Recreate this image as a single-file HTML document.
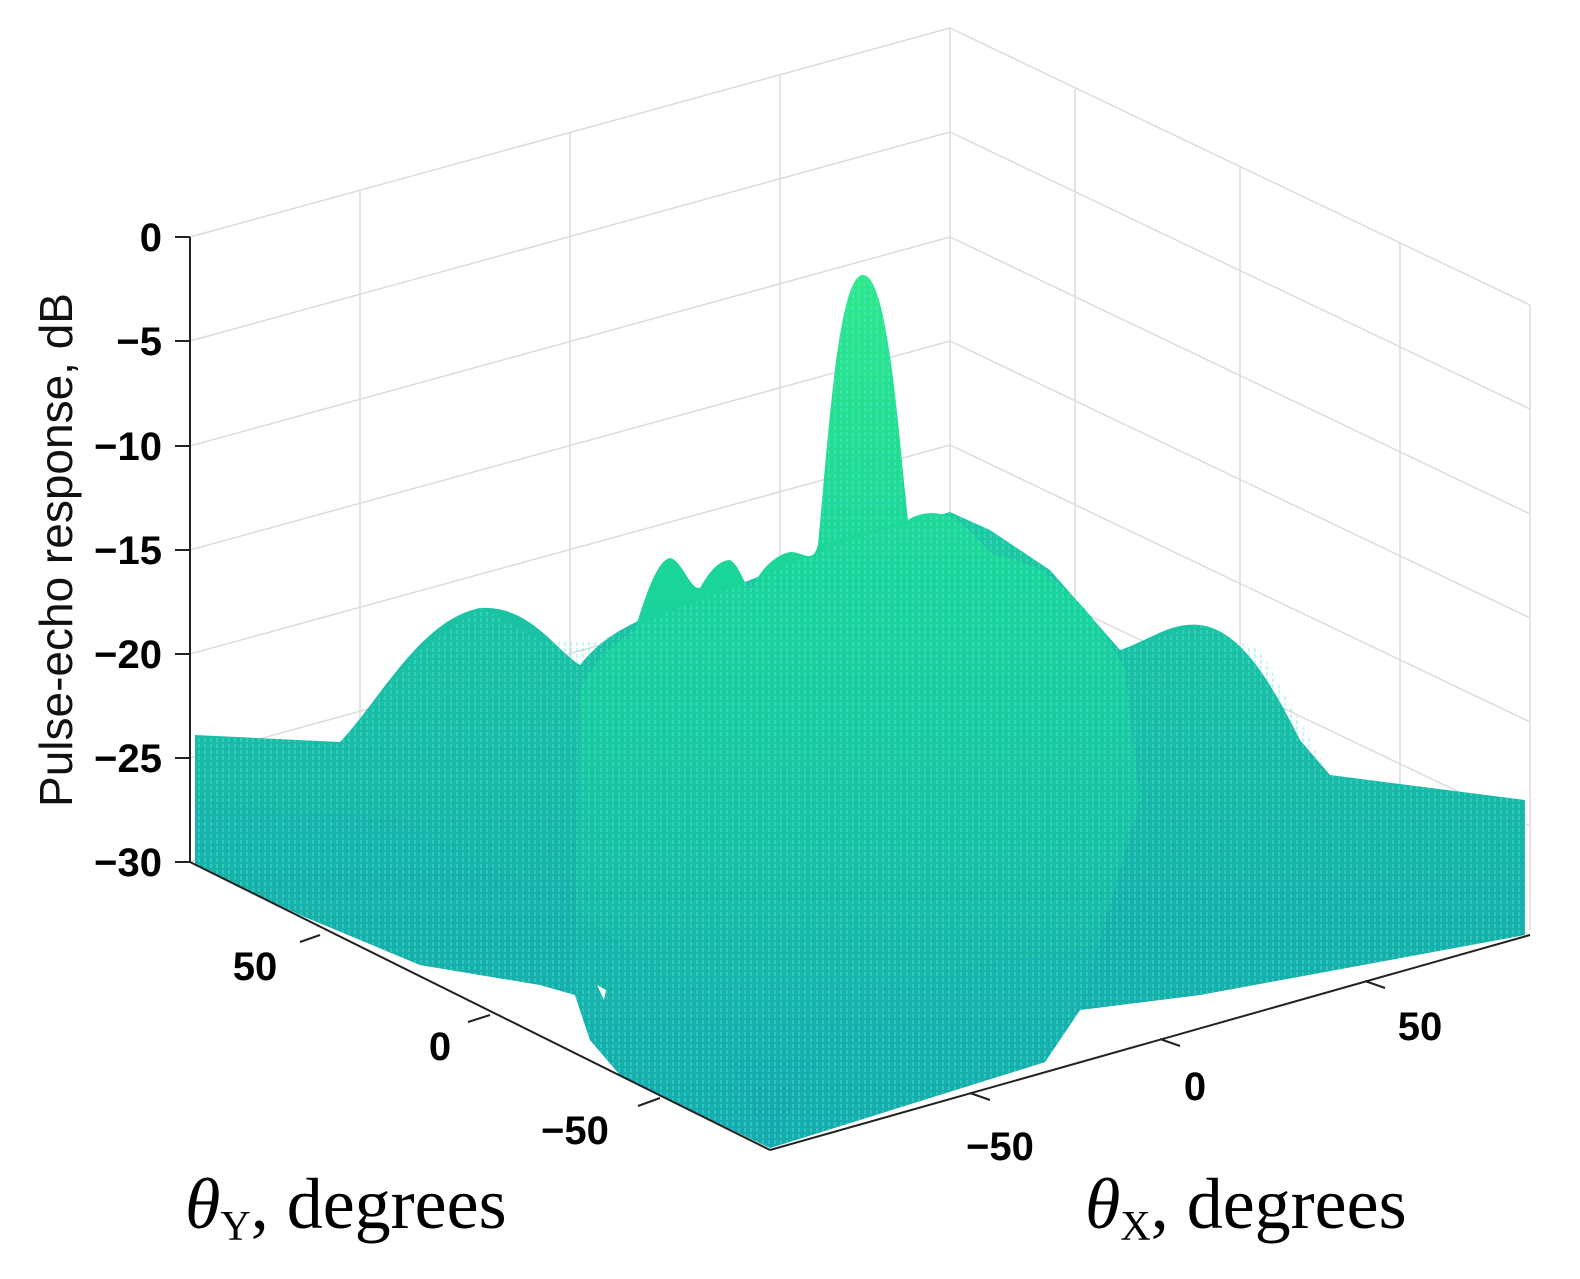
<!DOCTYPE html>
<html><head><meta charset="utf-8"><style>
html,body{margin:0;padding:0;background:#fff;}
svg{display:block;}
.t{font-family:"Liberation Sans",Arial,sans-serif;font-weight:bold;font-size:40px;fill:#000;}
.s{font-family:"Liberation Serif","Times New Roman",serif;font-size:72px;fill:#000;}
</style></head><body>
<svg width="1580" height="1279" viewBox="0 0 1580 1279" xmlns="http://www.w3.org/2000/svg">
<defs>
<linearGradient id="g" x1="0" y1="0" x2="0" y2="1">
<stop offset="0" stop-color="#2ee88a"/>
<stop offset="0.35" stop-color="#1ad59a"/>
<stop offset="0.7" stop-color="#18bda6"/>
<stop offset="1" stop-color="#14a6b0"/>
</linearGradient>
<linearGradient id="g2" x1="0" y1="0" x2="0" y2="1">
<stop offset="0" stop-color="#1cc9a0"/>
<stop offset="1" stop-color="#13a3b0"/>
</linearGradient>
<pattern id="p" width="6" height="6" patternUnits="userSpaceOnUse">
<rect x="0" y="0" width="2" height="4" fill="#5fe8e0" opacity="0.35"/>
</pattern>
</defs>
<g stroke="#dcdcdc" stroke-width="1.5" fill="none">
<line x1="190" y1="237" x2="950" y2="28"/>
<line x1="950" y1="28" x2="1530" y2="305"/>
<line x1="950" y1="28" x2="950" y2="653"/>
<line x1="360" y1="190" x2="360" y2="815"/>
<line x1="570" y1="132" x2="570" y2="757"/>
<line x1="780" y1="75" x2="780" y2="700"/>
<line x1="1075" y1="88" x2="1075" y2="713"/>
<line x1="1240" y1="166" x2="1240" y2="791"/>
<line x1="1400" y1="243" x2="1400" y2="868"/>
<line x1="1530" y1="305" x2="1530" y2="930"/>
<line x1="190" y1="341" x2="950" y2="132"/><line x1="950" y1="132" x2="1530" y2="409"/>
<line x1="190" y1="446" x2="950" y2="237"/><line x1="950" y1="237" x2="1530" y2="514"/>
<line x1="190" y1="550" x2="950" y2="341"/><line x1="950" y1="341" x2="1530" y2="618"/>
<line x1="190" y1="654" x2="950" y2="445"/><line x1="950" y1="445" x2="1530" y2="722"/>
<line x1="190" y1="758" x2="950" y2="549"/><line x1="950" y1="549" x2="1530" y2="826"/>
<line x1="190" y1="862" x2="950" y2="653"/><line x1="950" y1="653" x2="1530" y2="935"/>
</g>
<g>
<path fill="url(#g2)" d="M195,735 L340,742 C380,700 420,620 480,608 C530,605 555,650 580,665 C600,640 620,630 640,620 L700,600 L850,540 L950,512 L990,530 L1050,570 L1120,650 C1150,640 1170,622 1200,625 C1240,630 1270,680 1300,740 L1330,775 L1525,800 L1525,935 L1200,995 L1080,1010 L1045,1062 L770,1148 L680,1105 L620,1075 L590,1040 L575,995 L540,985 L420,965 L300,915 L195,865 Z"/>
<path fill="url(#g)" d="M580,690 C600,650 620,640 635,630 C650,580 660,560 670,558 C682,560 690,590 700,588 C710,570 720,560 730,560 C740,565 745,590 752,588 C760,570 775,555 790,552 C805,552 812,565 818,545 C828,440 838,275 863,275 C888,275 898,430 908,520 C920,512 935,512 945,515 C965,520 980,545 995,555 C1015,560 1040,565 1060,585 C1090,610 1110,640 1125,670 L1140,800 L1080,1010 L1045,1062 L770,1148 L680,1105 L620,1075 L590,1040 L575,995 Z"/>
<path fill="#16b2ac" d="M195,800 L400,820 L560,900 L700,1000 L770,1148 L680,1105 L620,1075 L590,1040 L575,995 L540,985 L420,965 L300,915 L195,865 Z" opacity="0.5"/>
<path fill="#16b2ac" d="M770,1148 L850,1000 L1000,960 L1525,880 L1525,935 L1200,995 L1080,1010 L1045,1062 Z" opacity="0.5"/>
<path fill="url(#p)" d="M195,735 L340,742 L420,650 L480,608 L540,640 L600,640 L700,600 L850,540 L950,512 L990,530 L1050,570 L1120,650 L1200,625 L1260,650 L1330,775 L1525,800 L1525,935 L1200,995 L1080,1010 L1045,1062 L770,1148 L680,1105 L620,1075 L590,1040 L575,995 L540,985 L420,965 L300,915 L195,865 Z"/>
<path fill="url(#p)" d="M818,545 C828,440 838,275 863,275 C888,275 898,430 908,520 Z"/>
<path fill="#fff" d="M597,985 L606,990 L604,1000 Z"/>
</g>
<g stroke="#222" stroke-width="2" fill="none">
<line x1="190" y1="237" x2="190" y2="862"/>
<line x1="190" y1="862" x2="770" y2="1150"/>
<line x1="770" y1="1150" x2="1530" y2="935"/>
<line x1="175" y1="237" x2="190" y2="237"/>
<line x1="175" y1="341" x2="190" y2="341"/>
<line x1="175" y1="446" x2="190" y2="446"/>
<line x1="175" y1="550" x2="190" y2="550"/>
<line x1="175" y1="654" x2="190" y2="654"/>
<line x1="175" y1="758" x2="190" y2="758"/>
<line x1="175" y1="862" x2="190" y2="862"/>
<line x1="300" y1="942" x2="320" y2="935"/>
<line x1="468" y1="1022" x2="490" y2="1015"/>
<line x1="638" y1="1106" x2="660" y2="1098"/>
<line x1="970" y1="1093" x2="990" y2="1100"/>
<line x1="1160" y1="1039" x2="1180" y2="1046"/>
<line x1="1365" y1="981" x2="1385" y2="988"/>
</g>
<g class="t" text-anchor="end">
<text x="162" y="251">0</text>
<text x="162" y="355">−5</text>
<text x="162" y="460">−10</text>
<text x="162" y="564">−15</text>
<text x="162" y="668">−20</text>
<text x="162" y="772">−25</text>
<text x="162" y="876">−30</text>
</g>
<g class="t" text-anchor="middle">
<text x="255" y="980">50</text>
<text x="440" y="1060">0</text>
<text x="575" y="1144">−50</text>
<text x="1000" y="1160">−50</text>
<text x="1195" y="1100">0</text>
<text x="1420" y="1040">50</text>
</g>
<text transform="translate(72,550) rotate(-90)" text-anchor="middle" style="font-family:'Liberation Sans',Arial,sans-serif;font-size:46px;fill:#111;">Pulse-echo response, dB</text>
<text class="s" x="185" y="1228"><tspan font-style="italic">θ</tspan><tspan font-size="42" dy="12">Y</tspan><tspan dy="-12">, degrees</tspan></text>
<text class="s" x="1085" y="1228"><tspan font-style="italic">θ</tspan><tspan font-size="42" dy="12">X</tspan><tspan dy="-12">, degrees</tspan></text>
</svg>
</body></html>
